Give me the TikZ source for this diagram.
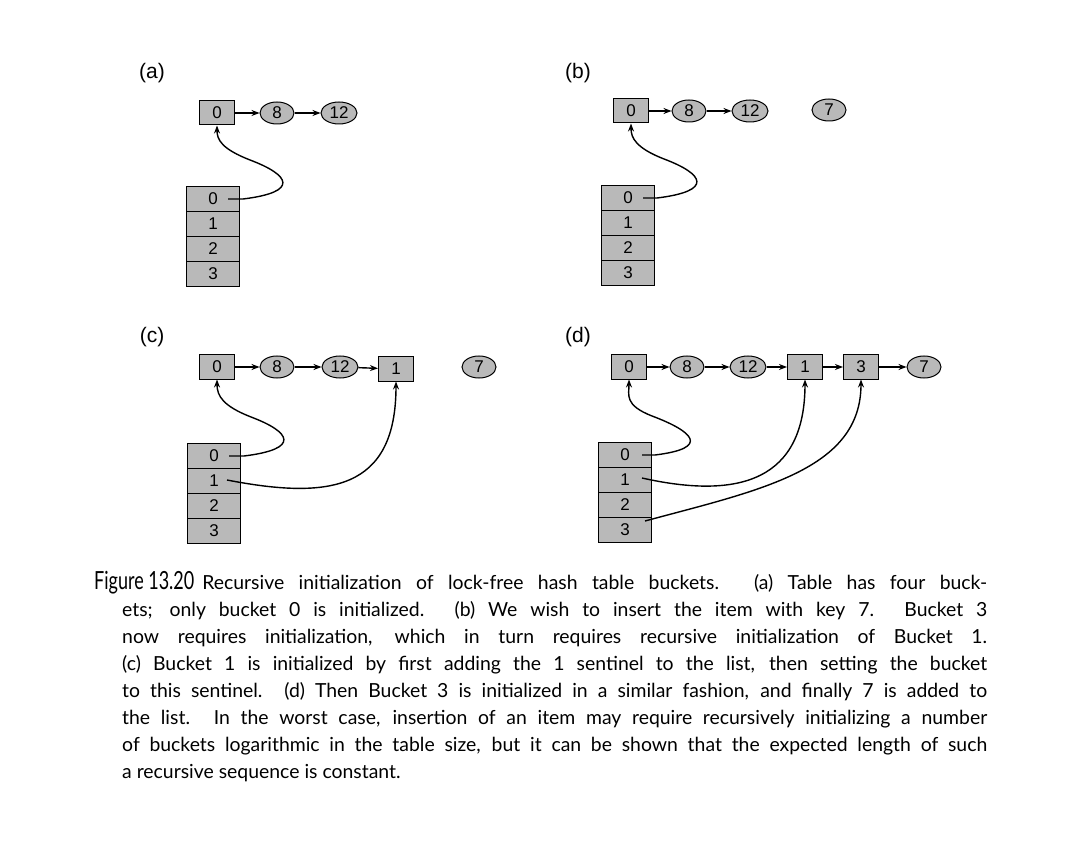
\documentclass[tikz,border=0pt]{standalone}
\usepackage{fontspec}
\setmainfont{Liberation Sans}
\newfontfamily\capfont{Lato}
\usetikzlibrary{shapes.geometric,arrows.meta}
\begin{document}
\begin{tikzpicture}[x=1pt,y=-1pt,
  bx/.style={draw,fill=gray!55,minimum width=35pt,minimum height=24pt,inner sep=0pt,font=\fontsize{17}{17}\selectfont,line width=1pt},
  el/.style={draw,fill=gray!55,ellipse,minimum width=34pt,minimum height=22pt,inner sep=0pt,font=\fontsize{17}{17}\selectfont,line width=1pt},
  row/.style={draw,fill=gray!55,minimum width=53pt,minimum height=25pt,inner sep=0pt,font=\fontsize{17}{17}\selectfont,line width=1pt},
  ar/.style={-{Stealth[length=8pt,width=6pt]},line width=1.4pt},
  lab/.style={font=\fontsize{21}{21}\selectfont}]
\useasboundingbox (0,0) rectangle (1082,842);
% (a)
\node[lab] (la) at (152,73) {(a)};
\node[bx] (a0) at (217,113) {0};
\node[el] (a8) at (277,113) {8};
\node[el,minimum width=36pt] (a12) at (339,113) {12};
\draw[ar] (a0) -- (a8); \draw[ar] (a8) -- (a12);
\foreach \i/\y in {0/199,1/224,2/249,3/274} \node[row] (at\i) at (213,\y) {\i};
\coordinate (ap0) at (228,199);
\draw[ar] (ap0) -- (243,199) .. controls (300,192) and (290,175) .. (250,160) .. controls (222,149) and (217,140) .. (a0.south);
% (b)
\node[lab] (lb) at (578,73) {(b)};
\node[bx] (b0) at (631,111) {0};
\node[el] (b8) at (689,111) {8};
\node[el,minimum width=36pt] (b12) at (750,111) {12};
\node[el] (b7) at (829,110) {7};
\draw[ar] (b0) -- (b8); \draw[ar] (b8) -- (b12);
\foreach \i/\y in {0/198,1/223,2/248,3/273} \node[row] (bt\i) at (628,\y) {\i};
\coordinate (bp0) at (643,198);
\draw[ar] (bp0) -- (657,198) .. controls (714,191) and (704,174) .. (664,159) .. controls (636,148) and (631,138) .. (b0.south);
% (c)
\node[lab] (lc) at (152,337) {(c)};
\node[bx] (c0) at (217,367) {0};
\node[el] (c8) at (277,367) {8};
\node[el,minimum width=36pt] (c12) at (340,367) {12};
\node[bx] (c1) at (396,369) {1};
\node[el] (c7) at (479,367) {7};
\draw[ar] (c0) -- (c8); \draw[ar] (c8) -- (c12); \draw[ar] (c12) -- (c1);
\foreach \i/\y in {0/456,1/481,2/506,3/531} \node[row] (ct\i) at (214,\y) {\i};
\coordinate (cp0) at (229,456);
\coordinate (cp1) at (227,480);
\draw[ar] (cp0) -- (244,456) .. controls (301,449) and (291,432) .. (251,417) .. controls (223,406) and (217,396) .. (c0.south);
\draw[ar] (cp1) .. controls (330,500) and (396,490) .. (c1.south);
% (d)
\node[lab] (ld) at (578,337) {(d)};
\node[bx] (d0) at (629,367) {0};
\node[el] (d8) at (687,367) {8};
\node[el,minimum width=36pt] (d12) at (748,367) {12};
\node[bx] (d1) at (805,367) {1};
\node[bx] (d3) at (861,367) {3};
\node[el] (d7) at (924,367) {7};
\draw[ar] (d0) -- (d8); \draw[ar] (d8) -- (d12); \draw[ar] (d12) -- (d1);
\draw[ar] (d1) -- (d3); \draw[ar] (d3) -- (d7);
\foreach \i/\y in {0/455,1/480,2/505,3/530} \node[row] (dt\i) at (625,\y) {\i};
\coordinate (dp0) at (642,455);
\coordinate (dp1) at (642,478);
\coordinate (dp3) at (645,521);
\draw[ar] (dp0) -- (655,455) .. controls (712,448) and (692,431) .. (652,416) .. controls (624,405) and (629,395) .. (d0.south);
\draw[ar] (dp1) .. controls (740,500) and (805,480) .. (d1.south);
\draw[ar] (dp3) .. controls (760,490) and (861,470) .. (d3.south);
% caption
\node[anchor=north west,inner sep=0pt,text width=893pt,align=justify,font=\capfont\fontsize{19.4}{27}\selectfont] (cap) at (94,571)
{\parshape 2 0pt 893pt 28pt 865pt {\fontsize{25}{27}\selectfont\scalebox{0.72}[1]{Figure 13.20}}\hspace{8pt}Recursive initialization of lock-free hash table buckets. (a) Table has four buck-\linebreak
ets; only bucket 0 is initialized. (b) We wish to insert the item with key 7. Bucket 3\linebreak
now requires initialization, which in turn requires recursive initialization of Bucket 1.\linebreak
(c) Bucket 1 is initialized by first adding the 1 sentinel to the list, then setting the bucket\linebreak
to this sentinel. (d) Then Bucket 3 is initialized in a similar fashion, and finally 7 is added to\linebreak
the list. In the worst case, insertion of an item may require recursively initializing a number\linebreak
of buckets logarithmic in the table size, but it can be shown that the expected length of such\linebreak
a recursive sequence is constant.\par};
\end{tikzpicture}
\end{document}
